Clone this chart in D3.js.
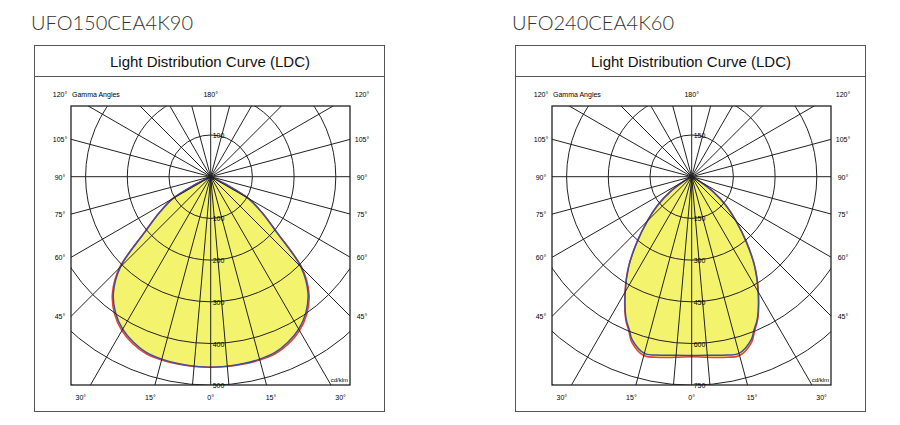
<!DOCTYPE html>
<html><head><meta charset="utf-8">
<script src="https://cdn.jsdelivr.net/npm/d3@7"></script>
<style>body{margin:0;background:#fff}</style>
</head><body>
<svg width="900" height="425"></svg>
<script>
var gammas = [0, 5, 10, 15, 20, 25, 30, 35, 40, 45, 50, 55, 60, 63, 66, 90];
var blue1 = [457, 456, 455, 453, 449, 438, 422, 398, 363, 306, 205, 150, 105, 45, 8, 0];
var red1  = [457, 457, 456, 455, 452, 442, 426, 402, 367, 310, 207, 150, 105, 45, 8, 0];
var gammas2 = [0, 5, 10, 15, 20, 22, 25, 30, 35, 40, 45, 50, 55, 60, 62, 90];
var blue2 = [643, 645, 652, 658, 625, 597, 560, 478, 395, 305, 225, 160, 95, 25, 5, 0];
var red2  = [648, 652, 660, 666, 632, 602, 563, 480, 397, 306, 226, 160, 95, 25, 5, 0];
var ringLabels1 = [100, 200, 300, 400, 500];
var ringLabels2 = [150, 300, 450, 600, 750];
var sideAngles = [105, 90, 75, 60, 45];
var bottomAngles = [-30, -15, 0, 15, 30];
var spokes = [0, 5, -5, 15, -15, 30, -30, 45, -45, 60, -60, 75, -75, 90, -90, 105, -105, 120, -120, 135, -135, 150, -150, 165, -165, 180];

var svg = d3.select("svg");

var charts = [
  {name: "UFO150CEA4K90", ox: 0, step: 100, blue: blue1, red: red1, g: gammas, rings: ringLabels1},
  {name: "UFO240CEA4K60", ox: 481, step: 150, blue: blue2, red: red2, g: gammas2, rings: ringLabels2}
];

charts.forEach(function(c, i) {
  var g = svg.append("g").attr("transform", "translate(" + c.ox + ",0)");
  var left = 71, right = 350, top = 106, bottom = 385, cx = 210.7, cy = 176.7;
  var r = d3.scaleLinear().domain([0, c.step]).range([0, 41.7]);

  g.append("text").attr("x", 31).attr("y", 30)
    .style("font", "300 20px Lato").attr("fill", "#333").text(c.name);
  g.append("rect").attr("x", 34.5).attr("y", 45.5).attr("width", 350).attr("height", 366)
    .attr("fill", "none").attr("stroke", "#555").attr("stroke-width", 1);
  g.append("line").attr("x1", 34.5).attr("x2", 384.5).attr("y1", 76.5).attr("y2", 76.5)
    .attr("stroke", "#555");
  g.append("text").attr("x", 210).attr("y", 67).attr("text-anchor", "middle")
    .style("font", "15px 'Liberation Sans', Arial").attr("fill", "#111")
    .text("Light Distribution Curve (LDC)");

  var clipId = "clip" + i;
  g.append("clipPath").attr("id", clipId).append("rect")
    .attr("x", left).attr("y", top).attr("width", right - left).attr("height", bottom - top);
  var plot = g.append("g").attr("clip-path", "url(#" + clipId + ")");

  // curves
  function pts(vals) {
    var arr = [];
    for (var k = c.g.length - 1; k >= 0; k--) arr.push({a: -c.g[k], v: vals[k]});
    for (var k = 1; k < c.g.length; k++) arr.push({a: c.g[k], v: vals[k]});
    return arr;
  }
  var line = d3.lineRadial()
    .angle(function(d) { return Math.PI - d.a * Math.PI / 180; })
    .radius(function(d) { return r(d.v); })
    .curve(d3.curveCatmullRomClosed);
  var cg = plot.append("g").attr("transform", "translate(" + cx + "," + cy + ")");
  cg.append("path").attr("d", line(pts(c.red))).attr("fill", "#f4f36e")
    .attr("stroke", "#e8412f").attr("stroke-width", 1.5);
  cg.append("path").attr("d", line(pts(c.blue))).attr("fill", "none")
    .attr("stroke", "#3d4f9e").attr("stroke-width", 1.5);

  // grid
  d3.range(1, 8).forEach(function(k) {
    plot.append("circle").attr("cx", cx).attr("cy", cy).attr("r", r(c.step * k))
      .attr("fill", "none").attr("stroke", "#222").attr("stroke-width", 1);
  });
  spokes.forEach(function(a) {
    var t = a * Math.PI / 180;
    plot.append("line").attr("x1", cx).attr("y1", cy)
      .attr("x2", cx + 400 * Math.sin(t)).attr("y2", cy + 400 * Math.cos(t))
      .attr("stroke", "#222").attr("stroke-width", 1);
  });
  g.append("rect").attr("x", left).attr("y", top).attr("width", right - left).attr("height", bottom - top)
    .attr("fill", "none").attr("stroke", "#222").attr("stroke-width", 1.3);

  var small = "7px 'Liberation Sans', Arial";
  // ring labels
  g.append("text").attr("x", cx + 2).attr("y", cy - r(c.step) + 3).style("font", small).text(c.rings[0]);
  c.rings.forEach(function(v) {
    g.append("text").attr("x", cx + 2).attr("y", cy + r(v) + 3).style("font", small).text(v);
  });
  g.append("text").attr("x", right - 2).attr("y", bottom - 3).attr("text-anchor", "end")
    .style("font", "6px 'Liberation Sans', Arial").text("cd/klm");

  // angle labels
  g.append("text").attr("x", 60).attr("y", 97).attr("text-anchor", "middle").style("font", small).text("120°");
  g.append("text").attr("x", 362).attr("y", 97).attr("text-anchor", "middle").style("font", small).text("120°");
  g.append("text").attr("x", 72).attr("y", 97).style("font", small).text("Gamma Angles");
  g.append("text").attr("x", cx).attr("y", 97).attr("text-anchor", "middle").style("font", small).text("180°");
  sideAngles.forEach(function(a) {
    var y = cy - (cx - left) * Math.tan((a - 90) * Math.PI / 180);
    [60, 362].forEach(function(x) {
      g.append("text").attr("x", x).attr("y", y + 3).attr("text-anchor", "middle").style("font", small).text(a + "°");
    });
  });
  bottomAngles.forEach(function(a) {
    var x = cx + (bottom - cy) * Math.tan(a * Math.PI / 180) * 1.08;
    g.append("text").attr("x", x).attr("y", 400).attr("text-anchor", "middle").style("font", small).text(Math.abs(a) + "°");
  });
});
</script>
</body></html>
